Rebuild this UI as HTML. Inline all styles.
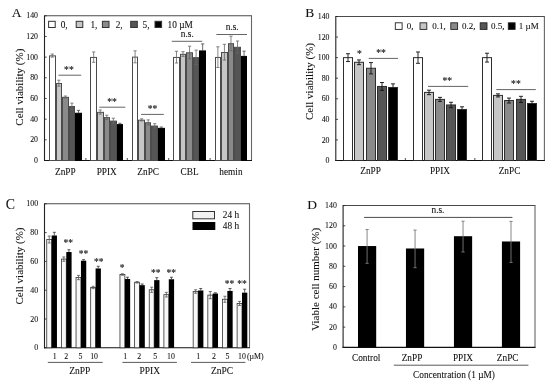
<!DOCTYPE html>
<html><head><meta charset="utf-8"><title>Figure</title>
<style>
html,body{margin:0;padding:0;background:#fff;}
svg{display:block;font-family:"Liberation Serif", "Times New Roman", serif;}
</style></head>
<body>
<svg width="550" height="385" viewBox="0 0 550 385">
<rect x="0" y="0" width="550" height="385" fill="#ffffff"/>
<line x1="44.00" y1="15.80" x2="252.00" y2="15.80" stroke="#4a4a4a" stroke-width="1.1"/>
<line x1="251.50" y1="15.80" x2="251.50" y2="160.50" stroke="#666" stroke-width="1.1"/>
<line x1="44.50" y1="15.80" x2="44.50" y2="161.00" stroke="#222" stroke-width="1.1"/>
<line x1="44.00" y1="160.50" x2="252.00" y2="160.50" stroke="#111" stroke-width="1.1"/>
<line x1="44.50" y1="160.50" x2="46.70" y2="160.50" stroke="#222" stroke-width="0.8"/>
<text x="38.00" y="163.07" font-size="7.8" text-anchor="end" fill="#111" stroke="#111" stroke-width="0.08">0</text>
<line x1="44.50" y1="139.83" x2="46.70" y2="139.83" stroke="#222" stroke-width="0.8"/>
<text x="38.00" y="142.40" font-size="7.8" text-anchor="end" fill="#111" stroke="#111" stroke-width="0.08">20</text>
<line x1="44.50" y1="119.16" x2="46.70" y2="119.16" stroke="#222" stroke-width="0.8"/>
<text x="38.00" y="121.73" font-size="7.8" text-anchor="end" fill="#111" stroke="#111" stroke-width="0.08">40</text>
<line x1="44.50" y1="98.49" x2="46.70" y2="98.49" stroke="#222" stroke-width="0.8"/>
<text x="38.00" y="101.06" font-size="7.8" text-anchor="end" fill="#111" stroke="#111" stroke-width="0.08">60</text>
<line x1="44.50" y1="77.81" x2="46.70" y2="77.81" stroke="#222" stroke-width="0.8"/>
<text x="38.00" y="80.39" font-size="7.8" text-anchor="end" fill="#111" stroke="#111" stroke-width="0.08">80</text>
<line x1="44.50" y1="57.14" x2="46.70" y2="57.14" stroke="#222" stroke-width="0.8"/>
<text x="38.00" y="59.72" font-size="7.8" text-anchor="end" fill="#111" stroke="#111" stroke-width="0.08">100</text>
<line x1="44.50" y1="36.47" x2="46.70" y2="36.47" stroke="#222" stroke-width="0.8"/>
<text x="38.00" y="39.05" font-size="7.8" text-anchor="end" fill="#111" stroke="#111" stroke-width="0.08">120</text>
<line x1="44.50" y1="15.80" x2="46.70" y2="15.80" stroke="#222" stroke-width="0.8"/>
<text x="38.00" y="18.37" font-size="7.8" text-anchor="end" fill="#111" stroke="#111" stroke-width="0.08">140</text>
<line x1="85.90" y1="160.50" x2="85.90" y2="158.00" stroke="#222" stroke-width="0.8"/>
<line x1="127.30" y1="160.50" x2="127.30" y2="158.00" stroke="#222" stroke-width="0.8"/>
<line x1="168.70" y1="160.50" x2="168.70" y2="158.00" stroke="#222" stroke-width="0.8"/>
<line x1="210.10" y1="160.50" x2="210.10" y2="158.00" stroke="#222" stroke-width="0.8"/>
<rect x="49.50" y="55.89" width="6.00" height="104.61" fill="#ffffff" stroke="#4c4c4c" stroke-width="1.0"/>
<rect x="56.50" y="83.49" width="5.00" height="77.01" fill="#c6c6c6" stroke="#4c4c4c" stroke-width="1.0"/>
<rect x="62.50" y="97.34" width="6.00" height="63.16" fill="#8a8a8a" stroke="#4c4c4c" stroke-width="1.0"/>
<rect x="69.50" y="106.54" width="5.00" height="53.96" fill="#555555" stroke="#4c4c4c" stroke-width="1.0"/>
<rect x="75.50" y="113.26" width="6.00" height="47.24" fill="#000000" stroke="#000" stroke-width="1.0"/>
<line x1="52.27" y1="54.04" x2="52.27" y2="57.14" stroke="#666" stroke-width="0.8"/>
<line x1="50.67" y1="54.04" x2="53.88" y2="54.04" stroke="#666" stroke-width="0.8"/>
<line x1="50.67" y1="57.14" x2="53.88" y2="57.14" stroke="#666" stroke-width="0.8"/>
<line x1="58.82" y1="80.19" x2="58.82" y2="86.19" stroke="#666" stroke-width="0.8"/>
<line x1="57.22" y1="80.19" x2="60.42" y2="80.19" stroke="#666" stroke-width="0.8"/>
<line x1="57.22" y1="86.19" x2="60.42" y2="86.19" stroke="#666" stroke-width="0.8"/>
<line x1="65.38" y1="96.01" x2="65.38" y2="98.07" stroke="#666" stroke-width="0.8"/>
<line x1="63.77" y1="96.01" x2="66.97" y2="96.01" stroke="#666" stroke-width="0.8"/>
<line x1="63.77" y1="98.07" x2="66.97" y2="98.07" stroke="#666" stroke-width="0.8"/>
<line x1="71.93" y1="103.14" x2="71.93" y2="109.34" stroke="#666" stroke-width="0.8"/>
<line x1="70.33" y1="103.14" x2="73.53" y2="103.14" stroke="#666" stroke-width="0.8"/>
<line x1="70.33" y1="109.34" x2="73.53" y2="109.34" stroke="#666" stroke-width="0.8"/>
<line x1="78.48" y1="110.37" x2="78.48" y2="112.96" stroke="#444" stroke-width="0.8"/>
<line x1="76.88" y1="110.37" x2="80.08" y2="110.37" stroke="#444" stroke-width="0.8"/>
<rect x="90.50" y="57.44" width="6.00" height="103.06" fill="#ffffff" stroke="#4c4c4c" stroke-width="1.0"/>
<rect x="97.50" y="112.33" width="6.00" height="48.17" fill="#c6c6c6" stroke="#4c4c4c" stroke-width="1.0"/>
<rect x="104.50" y="117.60" width="5.00" height="42.90" fill="#8a8a8a" stroke="#4c4c4c" stroke-width="1.0"/>
<rect x="110.50" y="121.11" width="6.00" height="39.39" fill="#555555" stroke="#4c4c4c" stroke-width="1.0"/>
<rect x="117.50" y="124.62" width="5.00" height="35.88" fill="#000000" stroke="#000" stroke-width="1.0"/>
<line x1="93.68" y1="51.98" x2="93.68" y2="62.31" stroke="#666" stroke-width="0.8"/>
<line x1="92.08" y1="51.98" x2="95.28" y2="51.98" stroke="#666" stroke-width="0.8"/>
<line x1="92.08" y1="62.31" x2="95.28" y2="62.31" stroke="#666" stroke-width="0.8"/>
<line x1="100.23" y1="109.96" x2="100.23" y2="114.09" stroke="#666" stroke-width="0.8"/>
<line x1="98.63" y1="109.96" x2="101.83" y2="109.96" stroke="#666" stroke-width="0.8"/>
<line x1="98.63" y1="114.09" x2="101.83" y2="114.09" stroke="#666" stroke-width="0.8"/>
<line x1="106.78" y1="115.23" x2="106.78" y2="119.36" stroke="#666" stroke-width="0.8"/>
<line x1="105.18" y1="115.23" x2="108.38" y2="115.23" stroke="#666" stroke-width="0.8"/>
<line x1="105.18" y1="119.36" x2="108.38" y2="119.36" stroke="#666" stroke-width="0.8"/>
<line x1="113.33" y1="118.23" x2="113.33" y2="123.39" stroke="#666" stroke-width="0.8"/>
<line x1="111.73" y1="118.23" x2="114.93" y2="118.23" stroke="#666" stroke-width="0.8"/>
<line x1="111.73" y1="123.39" x2="114.93" y2="123.39" stroke="#666" stroke-width="0.8"/>
<line x1="119.88" y1="123.29" x2="119.88" y2="124.33" stroke="#444" stroke-width="0.8"/>
<line x1="118.28" y1="123.29" x2="121.48" y2="123.29" stroke="#444" stroke-width="0.8"/>
<rect x="132.50" y="57.13" width="5.00" height="103.37" fill="#ffffff" stroke="#4c4c4c" stroke-width="1.0"/>
<rect x="138.50" y="120.18" width="6.00" height="40.32" fill="#c6c6c6" stroke="#4c4c4c" stroke-width="1.0"/>
<rect x="145.50" y="122.76" width="5.00" height="37.74" fill="#8a8a8a" stroke="#4c4c4c" stroke-width="1.0"/>
<rect x="151.50" y="126.07" width="6.00" height="34.43" fill="#555555" stroke="#4c4c4c" stroke-width="1.0"/>
<rect x="158.50" y="128.35" width="6.00" height="32.15" fill="#000000" stroke="#000" stroke-width="1.0"/>
<line x1="135.08" y1="50.84" x2="135.08" y2="62.83" stroke="#666" stroke-width="0.8"/>
<line x1="133.48" y1="50.84" x2="136.68" y2="50.84" stroke="#666" stroke-width="0.8"/>
<line x1="133.48" y1="62.83" x2="136.68" y2="62.83" stroke="#666" stroke-width="0.8"/>
<line x1="141.63" y1="118.85" x2="141.63" y2="120.91" stroke="#666" stroke-width="0.8"/>
<line x1="140.03" y1="118.85" x2="143.23" y2="118.85" stroke="#666" stroke-width="0.8"/>
<line x1="140.03" y1="120.91" x2="143.23" y2="120.91" stroke="#666" stroke-width="0.8"/>
<line x1="148.18" y1="119.88" x2="148.18" y2="125.05" stroke="#666" stroke-width="0.8"/>
<line x1="146.58" y1="119.88" x2="149.78" y2="119.88" stroke="#666" stroke-width="0.8"/>
<line x1="146.58" y1="125.05" x2="149.78" y2="125.05" stroke="#666" stroke-width="0.8"/>
<line x1="154.73" y1="123.70" x2="154.73" y2="127.84" stroke="#666" stroke-width="0.8"/>
<line x1="153.13" y1="123.70" x2="156.33" y2="123.70" stroke="#666" stroke-width="0.8"/>
<line x1="153.13" y1="127.84" x2="156.33" y2="127.84" stroke="#666" stroke-width="0.8"/>
<line x1="161.28" y1="127.01" x2="161.28" y2="128.05" stroke="#444" stroke-width="0.8"/>
<line x1="159.68" y1="127.01" x2="162.88" y2="127.01" stroke="#444" stroke-width="0.8"/>
<rect x="173.50" y="57.44" width="6.00" height="103.06" fill="#ffffff" stroke="#4c4c4c" stroke-width="1.0"/>
<rect x="180.50" y="54.34" width="5.00" height="106.16" fill="#c6c6c6" stroke="#4c4c4c" stroke-width="1.0"/>
<rect x="186.50" y="52.79" width="6.00" height="107.71" fill="#8a8a8a" stroke="#4c4c4c" stroke-width="1.0"/>
<rect x="193.50" y="57.65" width="5.00" height="102.85" fill="#555555" stroke="#4c4c4c" stroke-width="1.0"/>
<rect x="199.50" y="50.93" width="6.00" height="109.57" fill="#000000" stroke="#000" stroke-width="1.0"/>
<line x1="176.47" y1="51.25" x2="176.47" y2="63.03" stroke="#666" stroke-width="0.8"/>
<line x1="174.88" y1="51.25" x2="178.07" y2="51.25" stroke="#666" stroke-width="0.8"/>
<line x1="174.88" y1="63.03" x2="178.07" y2="63.03" stroke="#666" stroke-width="0.8"/>
<line x1="183.03" y1="51.66" x2="183.03" y2="56.42" stroke="#666" stroke-width="0.8"/>
<line x1="181.43" y1="51.66" x2="184.62" y2="51.66" stroke="#666" stroke-width="0.8"/>
<line x1="181.43" y1="56.42" x2="184.62" y2="56.42" stroke="#666" stroke-width="0.8"/>
<line x1="189.57" y1="46.19" x2="189.57" y2="58.80" stroke="#666" stroke-width="0.8"/>
<line x1="187.97" y1="46.19" x2="191.17" y2="46.19" stroke="#666" stroke-width="0.8"/>
<line x1="187.97" y1="58.80" x2="191.17" y2="58.80" stroke="#666" stroke-width="0.8"/>
<line x1="196.12" y1="50.11" x2="196.12" y2="64.58" stroke="#666" stroke-width="0.8"/>
<line x1="194.53" y1="50.11" x2="197.72" y2="50.11" stroke="#666" stroke-width="0.8"/>
<line x1="194.53" y1="64.58" x2="197.72" y2="64.58" stroke="#666" stroke-width="0.8"/>
<line x1="202.67" y1="43.91" x2="202.67" y2="50.63" stroke="#444" stroke-width="0.8"/>
<line x1="201.07" y1="43.91" x2="204.27" y2="43.91" stroke="#444" stroke-width="0.8"/>
<rect x="215.50" y="57.44" width="5.00" height="103.06" fill="#ffffff" stroke="#4c4c4c" stroke-width="1.0"/>
<rect x="221.50" y="52.48" width="6.00" height="108.02" fill="#c6c6c6" stroke="#4c4c4c" stroke-width="1.0"/>
<rect x="228.50" y="43.70" width="5.00" height="116.80" fill="#8a8a8a" stroke="#4c4c4c" stroke-width="1.0"/>
<rect x="234.50" y="47.31" width="6.00" height="113.19" fill="#555555" stroke="#4c4c4c" stroke-width="1.0"/>
<rect x="241.50" y="56.41" width="5.00" height="104.09" fill="#000000" stroke="#000" stroke-width="1.0"/>
<line x1="217.88" y1="46.81" x2="217.88" y2="67.48" stroke="#666" stroke-width="0.8"/>
<line x1="216.28" y1="46.81" x2="219.47" y2="46.81" stroke="#666" stroke-width="0.8"/>
<line x1="216.28" y1="67.48" x2="219.47" y2="67.48" stroke="#666" stroke-width="0.8"/>
<line x1="224.43" y1="44.33" x2="224.43" y2="60.04" stroke="#666" stroke-width="0.8"/>
<line x1="222.83" y1="44.33" x2="226.03" y2="44.33" stroke="#666" stroke-width="0.8"/>
<line x1="222.83" y1="60.04" x2="226.03" y2="60.04" stroke="#666" stroke-width="0.8"/>
<line x1="230.97" y1="36.16" x2="230.97" y2="50.63" stroke="#666" stroke-width="0.8"/>
<line x1="229.38" y1="36.16" x2="232.57" y2="36.16" stroke="#666" stroke-width="0.8"/>
<line x1="229.38" y1="50.63" x2="232.57" y2="50.63" stroke="#666" stroke-width="0.8"/>
<line x1="237.53" y1="41.02" x2="237.53" y2="53.01" stroke="#666" stroke-width="0.8"/>
<line x1="235.93" y1="41.02" x2="239.12" y2="41.02" stroke="#666" stroke-width="0.8"/>
<line x1="235.93" y1="53.01" x2="239.12" y2="53.01" stroke="#666" stroke-width="0.8"/>
<line x1="244.07" y1="51.15" x2="244.07" y2="56.11" stroke="#444" stroke-width="0.8"/>
<line x1="242.47" y1="51.15" x2="245.67" y2="51.15" stroke="#444" stroke-width="0.8"/>
<text x="65.38" y="174.80" font-size="9.3" text-anchor="middle" fill="#111" stroke="#111" stroke-width="0.08">ZnPP</text>
<text x="106.78" y="174.80" font-size="9.3" text-anchor="middle" fill="#111" stroke="#111" stroke-width="0.08">PPIX</text>
<text x="148.18" y="174.80" font-size="9.3" text-anchor="middle" fill="#111" stroke="#111" stroke-width="0.08">ZnPC</text>
<text x="189.57" y="174.80" font-size="9.3" text-anchor="middle" fill="#111" stroke="#111" stroke-width="0.08">CBL</text>
<text x="230.97" y="174.80" font-size="9.3" text-anchor="middle" fill="#111" stroke="#111" stroke-width="0.08">hemin</text>
<text x="16.60" y="17.30" font-size="13.5" text-anchor="middle" fill="#111" stroke="#111" stroke-width="0.08">A</text>
<text x="22.90" y="87.20" font-size="11" text-anchor="middle" fill="#111" stroke="#111" stroke-width="0.08" transform="rotate(-90 22.90 87.20)">Cell viability (%)</text>
<rect x="48.60" y="21.30" width="6.60" height="6.20" fill="#ffffff" stroke="#333" stroke-width="1.0"/>
<text x="60.70" y="27.90" font-size="9.3" text-anchor="start" fill="#111" stroke="#111" stroke-width="0.08">0,</text>
<rect x="76.20" y="21.30" width="6.60" height="6.20" fill="#c6c6c6" stroke="#333" stroke-width="1.0"/>
<text x="90.40" y="27.90" font-size="9.3" text-anchor="start" fill="#111" stroke="#111" stroke-width="0.08">1,</text>
<rect x="102.40" y="21.30" width="6.60" height="6.20" fill="#8a8a8a" stroke="#333" stroke-width="1.0"/>
<text x="115.70" y="27.90" font-size="9.3" text-anchor="start" fill="#111" stroke="#111" stroke-width="0.08">2,</text>
<rect x="130.70" y="21.30" width="6.60" height="6.20" fill="#555555" stroke="#333" stroke-width="1.0"/>
<text x="142.50" y="27.90" font-size="9.3" text-anchor="start" fill="#111" stroke="#111" stroke-width="0.08">5,</text>
<rect x="155.00" y="21.30" width="6.60" height="6.20" fill="#000000" stroke="#333" stroke-width="1.0"/>
<text x="167.60" y="27.90" font-size="9.3" text-anchor="start" fill="#111" stroke="#111" stroke-width="0.08">10 µM</text>
<line x1="58.50" y1="75.20" x2="81.20" y2="75.20" stroke="#646464" stroke-width="1.0"/>
<text x="68.90" y="73.10" font-size="9.6" text-anchor="middle" fill="#111" stroke="#111" stroke-width="0.12">**</text>
<line x1="99.30" y1="107.20" x2="125.30" y2="107.20" stroke="#646464" stroke-width="1.0"/>
<text x="112.10" y="105.10" font-size="9.6" text-anchor="middle" fill="#111" stroke="#111" stroke-width="0.12">**</text>
<line x1="141.10" y1="114.40" x2="163.80" y2="114.40" stroke="#646464" stroke-width="1.0"/>
<text x="152.50" y="112.30" font-size="9.6" text-anchor="middle" fill="#111" stroke="#111" stroke-width="0.12">**</text>
<line x1="171.80" y1="41.30" x2="202.20" y2="41.30" stroke="#646464" stroke-width="1.0"/>
<text x="187.30" y="36.70" font-size="9.3" text-anchor="middle" fill="#111" stroke="#111" stroke-width="0.08">n.s.</text>
<line x1="216.40" y1="34.50" x2="247.00" y2="34.50" stroke="#646464" stroke-width="1.0"/>
<text x="232.20" y="29.90" font-size="9.3" text-anchor="middle" fill="#111" stroke="#111" stroke-width="0.08">n.s.</text>
<line x1="335.30" y1="16.50" x2="544.90" y2="16.50" stroke="#4a4a4a" stroke-width="1.1"/>
<line x1="544.40" y1="16.50" x2="544.40" y2="160.50" stroke="#666" stroke-width="1.1"/>
<line x1="335.80" y1="16.50" x2="335.80" y2="161.00" stroke="#222" stroke-width="1.1"/>
<line x1="335.30" y1="160.50" x2="544.90" y2="160.50" stroke="#111" stroke-width="1.1"/>
<line x1="335.80" y1="160.50" x2="338.00" y2="160.50" stroke="#222" stroke-width="0.8"/>
<text x="329.50" y="163.07" font-size="7.8" text-anchor="end" fill="#111" stroke="#111" stroke-width="0.08">0</text>
<line x1="335.80" y1="139.93" x2="338.00" y2="139.93" stroke="#222" stroke-width="0.8"/>
<text x="329.50" y="142.50" font-size="7.8" text-anchor="end" fill="#111" stroke="#111" stroke-width="0.08">20</text>
<line x1="335.80" y1="119.36" x2="338.00" y2="119.36" stroke="#222" stroke-width="0.8"/>
<text x="329.50" y="121.93" font-size="7.8" text-anchor="end" fill="#111" stroke="#111" stroke-width="0.08">40</text>
<line x1="335.80" y1="98.79" x2="338.00" y2="98.79" stroke="#222" stroke-width="0.8"/>
<text x="329.50" y="101.36" font-size="7.8" text-anchor="end" fill="#111" stroke="#111" stroke-width="0.08">60</text>
<line x1="335.80" y1="78.21" x2="338.00" y2="78.21" stroke="#222" stroke-width="0.8"/>
<text x="329.50" y="80.79" font-size="7.8" text-anchor="end" fill="#111" stroke="#111" stroke-width="0.08">80</text>
<line x1="335.80" y1="57.64" x2="338.00" y2="57.64" stroke="#222" stroke-width="0.8"/>
<text x="329.50" y="60.22" font-size="7.8" text-anchor="end" fill="#111" stroke="#111" stroke-width="0.08">100</text>
<line x1="335.80" y1="37.07" x2="338.00" y2="37.07" stroke="#222" stroke-width="0.8"/>
<text x="329.50" y="39.65" font-size="7.8" text-anchor="end" fill="#111" stroke="#111" stroke-width="0.08">120</text>
<line x1="335.80" y1="16.50" x2="338.00" y2="16.50" stroke="#222" stroke-width="0.8"/>
<text x="329.50" y="19.07" font-size="7.8" text-anchor="end" fill="#111" stroke="#111" stroke-width="0.08">140</text>
<line x1="405.33" y1="160.50" x2="405.33" y2="158.00" stroke="#222" stroke-width="0.8"/>
<line x1="474.87" y1="160.50" x2="474.87" y2="158.00" stroke="#222" stroke-width="0.8"/>
<rect x="343.50" y="57.64" width="9.00" height="102.86" fill="#ffffff" stroke="#2e2e2e" stroke-width="1.0"/>
<rect x="354.50" y="62.27" width="9.00" height="98.23" fill="#c6c6c6" stroke="#2e2e2e" stroke-width="1.0"/>
<rect x="366.50" y="68.24" width="9.00" height="92.26" fill="#8a8a8a" stroke="#2e2e2e" stroke-width="1.0"/>
<rect x="377.50" y="86.44" width="9.00" height="74.06" fill="#555555" stroke="#2e2e2e" stroke-width="1.0"/>
<rect x="388.50" y="87.47" width="9.00" height="73.03" fill="#000000" stroke="#2e2e2e" stroke-width="1.0"/>
<line x1="348.00" y1="53.73" x2="348.00" y2="61.55" stroke="#111" stroke-width="0.9"/>
<line x1="346.00" y1="53.73" x2="350.00" y2="53.73" stroke="#111" stroke-width="0.9"/>
<line x1="346.00" y1="61.55" x2="350.00" y2="61.55" stroke="#111" stroke-width="0.9"/>
<line x1="359.00" y1="59.91" x2="359.00" y2="64.64" stroke="#111" stroke-width="0.9"/>
<line x1="357.00" y1="59.91" x2="361.00" y2="59.91" stroke="#111" stroke-width="0.9"/>
<line x1="357.00" y1="64.64" x2="361.00" y2="64.64" stroke="#111" stroke-width="0.9"/>
<line x1="371.00" y1="62.58" x2="371.00" y2="73.89" stroke="#111" stroke-width="0.9"/>
<line x1="369.00" y1="62.58" x2="373.00" y2="62.58" stroke="#111" stroke-width="0.9"/>
<line x1="369.00" y1="73.89" x2="373.00" y2="73.89" stroke="#111" stroke-width="0.9"/>
<line x1="382.00" y1="82.53" x2="382.00" y2="90.35" stroke="#111" stroke-width="0.9"/>
<line x1="380.00" y1="82.53" x2="384.00" y2="82.53" stroke="#111" stroke-width="0.9"/>
<line x1="380.00" y1="90.35" x2="384.00" y2="90.35" stroke="#111" stroke-width="0.9"/>
<line x1="393.00" y1="83.87" x2="393.00" y2="87.47" stroke="#111" stroke-width="0.9"/>
<line x1="391.00" y1="83.87" x2="395.00" y2="83.87" stroke="#111" stroke-width="0.9"/>
<rect x="413.50" y="57.64" width="9.00" height="102.86" fill="#ffffff" stroke="#2e2e2e" stroke-width="1.0"/>
<rect x="424.50" y="92.41" width="9.00" height="68.09" fill="#c6c6c6" stroke="#2e2e2e" stroke-width="1.0"/>
<rect x="435.50" y="99.40" width="9.00" height="61.10" fill="#8a8a8a" stroke="#2e2e2e" stroke-width="1.0"/>
<rect x="446.50" y="104.96" width="9.00" height="55.54" fill="#555555" stroke="#2e2e2e" stroke-width="1.0"/>
<rect x="457.50" y="109.48" width="9.00" height="51.02" fill="#000000" stroke="#2e2e2e" stroke-width="1.0"/>
<line x1="418.00" y1="51.99" x2="418.00" y2="63.30" stroke="#111" stroke-width="0.9"/>
<line x1="416.00" y1="51.99" x2="420.00" y2="51.99" stroke="#111" stroke-width="0.9"/>
<line x1="416.00" y1="63.30" x2="420.00" y2="63.30" stroke="#111" stroke-width="0.9"/>
<line x1="429.00" y1="90.15" x2="429.00" y2="94.67" stroke="#111" stroke-width="0.9"/>
<line x1="427.00" y1="90.15" x2="431.00" y2="90.15" stroke="#111" stroke-width="0.9"/>
<line x1="427.00" y1="94.67" x2="431.00" y2="94.67" stroke="#111" stroke-width="0.9"/>
<line x1="440.00" y1="97.35" x2="440.00" y2="101.46" stroke="#111" stroke-width="0.9"/>
<line x1="438.00" y1="97.35" x2="442.00" y2="97.35" stroke="#111" stroke-width="0.9"/>
<line x1="438.00" y1="101.46" x2="442.00" y2="101.46" stroke="#111" stroke-width="0.9"/>
<line x1="451.00" y1="102.28" x2="451.00" y2="107.63" stroke="#111" stroke-width="0.9"/>
<line x1="449.00" y1="102.28" x2="453.00" y2="102.28" stroke="#111" stroke-width="0.9"/>
<line x1="449.00" y1="107.63" x2="453.00" y2="107.63" stroke="#111" stroke-width="0.9"/>
<line x1="462.00" y1="106.81" x2="462.00" y2="109.48" stroke="#111" stroke-width="0.9"/>
<line x1="460.00" y1="106.81" x2="464.00" y2="106.81" stroke="#111" stroke-width="0.9"/>
<rect x="482.50" y="57.64" width="9.00" height="102.86" fill="#ffffff" stroke="#2e2e2e" stroke-width="1.0"/>
<rect x="493.50" y="95.39" width="9.00" height="65.11" fill="#c6c6c6" stroke="#2e2e2e" stroke-width="1.0"/>
<rect x="504.50" y="100.53" width="9.00" height="59.97" fill="#8a8a8a" stroke="#2e2e2e" stroke-width="1.0"/>
<rect x="516.50" y="99.40" width="9.00" height="61.10" fill="#555555" stroke="#2e2e2e" stroke-width="1.0"/>
<rect x="527.50" y="103.52" width="9.00" height="56.98" fill="#000000" stroke="#2e2e2e" stroke-width="1.0"/>
<line x1="487.00" y1="53.22" x2="487.00" y2="62.07" stroke="#111" stroke-width="0.9"/>
<line x1="485.00" y1="53.22" x2="489.00" y2="53.22" stroke="#111" stroke-width="0.9"/>
<line x1="485.00" y1="62.07" x2="489.00" y2="62.07" stroke="#111" stroke-width="0.9"/>
<line x1="498.00" y1="93.85" x2="498.00" y2="96.93" stroke="#111" stroke-width="0.9"/>
<line x1="496.00" y1="93.85" x2="500.00" y2="93.85" stroke="#111" stroke-width="0.9"/>
<line x1="496.00" y1="96.93" x2="500.00" y2="96.93" stroke="#111" stroke-width="0.9"/>
<line x1="509.00" y1="98.07" x2="509.00" y2="103.00" stroke="#111" stroke-width="0.9"/>
<line x1="507.00" y1="98.07" x2="511.00" y2="98.07" stroke="#111" stroke-width="0.9"/>
<line x1="507.00" y1="103.00" x2="511.00" y2="103.00" stroke="#111" stroke-width="0.9"/>
<line x1="521.00" y1="96.32" x2="521.00" y2="102.49" stroke="#111" stroke-width="0.9"/>
<line x1="519.00" y1="96.32" x2="523.00" y2="96.32" stroke="#111" stroke-width="0.9"/>
<line x1="519.00" y1="102.49" x2="523.00" y2="102.49" stroke="#111" stroke-width="0.9"/>
<line x1="532.00" y1="101.25" x2="532.00" y2="103.52" stroke="#111" stroke-width="0.9"/>
<line x1="530.00" y1="101.25" x2="534.00" y2="101.25" stroke="#111" stroke-width="0.9"/>
<text x="370.60" y="174.20" font-size="9.3" text-anchor="middle" fill="#111" stroke="#111" stroke-width="0.08">ZnPP</text>
<text x="440.00" y="174.20" font-size="9.3" text-anchor="middle" fill="#111" stroke="#111" stroke-width="0.08">PPIX</text>
<text x="509.50" y="174.20" font-size="9.3" text-anchor="middle" fill="#111" stroke="#111" stroke-width="0.08">ZnPC</text>
<text x="309.80" y="17.30" font-size="13.5" text-anchor="middle" fill="#111" stroke="#111" stroke-width="0.08">B</text>
<text x="313.30" y="81.50" font-size="11" text-anchor="middle" fill="#111" stroke="#111" stroke-width="0.08" transform="rotate(-90 313.30 81.50)">Cell viability (%)</text>
<rect x="395.30" y="22.80" width="6.80" height="6.60" fill="#ffffff" stroke="#222" stroke-width="0.9"/>
<text x="406.70" y="29.20" font-size="9.0" text-anchor="start" fill="#111" stroke="#111" stroke-width="0.08">0,</text>
<rect x="420.00" y="22.80" width="6.80" height="6.60" fill="#c6c6c6" stroke="#222" stroke-width="0.9"/>
<text x="432.20" y="29.20" font-size="9.0" text-anchor="start" fill="#111" stroke="#111" stroke-width="0.08">0.1,</text>
<rect x="450.80" y="22.80" width="6.80" height="6.60" fill="#8a8a8a" stroke="#222" stroke-width="0.9"/>
<text x="462.10" y="29.20" font-size="9.0" text-anchor="start" fill="#111" stroke="#111" stroke-width="0.08">0.2,</text>
<rect x="480.20" y="22.80" width="6.80" height="6.60" fill="#555555" stroke="#222" stroke-width="0.9"/>
<text x="491.00" y="29.20" font-size="9.0" text-anchor="start" fill="#111" stroke="#111" stroke-width="0.08">0.5,</text>
<rect x="508.30" y="22.80" width="6.80" height="6.60" fill="#000000" stroke="#222" stroke-width="0.9"/>
<text x="518.80" y="29.20" font-size="9.0" text-anchor="start" fill="#111" stroke="#111" stroke-width="0.08">1 µM</text>
<line x1="368.70" y1="58.40" x2="398.00" y2="58.40" stroke="#646464" stroke-width="1.0"/>
<text x="381.00" y="55.60" font-size="9.6" text-anchor="middle" fill="#111" stroke="#111" stroke-width="0.12">**</text>
<line x1="428.00" y1="86.40" x2="468.20" y2="86.40" stroke="#646464" stroke-width="1.0"/>
<text x="447.20" y="83.60" font-size="9.6" text-anchor="middle" fill="#111" stroke="#111" stroke-width="0.12">**</text>
<line x1="496.30" y1="89.60" x2="535.80" y2="89.60" stroke="#646464" stroke-width="1.0"/>
<text x="515.90" y="86.80" font-size="9.6" text-anchor="middle" fill="#111" stroke="#111" stroke-width="0.12">**</text>
<text x="359.30" y="57.30" font-size="9.6" text-anchor="middle" fill="#111" stroke="#111" stroke-width="0.12">*</text>
<line x1="44.00" y1="203.80" x2="250.00" y2="203.80" stroke="#4a4a4a" stroke-width="1.1"/>
<line x1="249.50" y1="203.80" x2="249.50" y2="347.80" stroke="#666" stroke-width="1.1"/>
<line x1="44.50" y1="203.80" x2="44.50" y2="348.30" stroke="#222" stroke-width="1.1"/>
<line x1="44.00" y1="347.80" x2="250.00" y2="347.80" stroke="#111" stroke-width="1.1"/>
<line x1="44.50" y1="347.80" x2="46.70" y2="347.80" stroke="#222" stroke-width="0.8"/>
<text x="38.20" y="350.41" font-size="7.9" text-anchor="end" fill="#111" stroke="#111" stroke-width="0.08">0</text>
<line x1="44.50" y1="319.00" x2="46.70" y2="319.00" stroke="#222" stroke-width="0.8"/>
<text x="38.20" y="321.61" font-size="7.9" text-anchor="end" fill="#111" stroke="#111" stroke-width="0.08">20</text>
<line x1="44.50" y1="290.20" x2="46.70" y2="290.20" stroke="#222" stroke-width="0.8"/>
<text x="38.20" y="292.81" font-size="7.9" text-anchor="end" fill="#111" stroke="#111" stroke-width="0.08">40</text>
<line x1="44.50" y1="261.40" x2="46.70" y2="261.40" stroke="#222" stroke-width="0.8"/>
<text x="38.20" y="264.01" font-size="7.9" text-anchor="end" fill="#111" stroke="#111" stroke-width="0.08">60</text>
<line x1="44.50" y1="232.60" x2="46.70" y2="232.60" stroke="#222" stroke-width="0.8"/>
<text x="38.20" y="235.21" font-size="7.9" text-anchor="end" fill="#111" stroke="#111" stroke-width="0.08">80</text>
<line x1="44.50" y1="203.80" x2="46.70" y2="203.80" stroke="#222" stroke-width="0.8"/>
<text x="38.20" y="206.41" font-size="7.9" text-anchor="end" fill="#111" stroke="#111" stroke-width="0.08">100</text>
<rect x="46.75" y="239.51" width="4.90" height="108.29" fill="#f8f8f8" stroke="#333" stroke-width="0.8"/>
<rect x="51.65" y="235.48" width="5.30" height="112.32" fill="#000"/>
<line x1="49.20" y1="236.06" x2="49.20" y2="242.97" stroke="#555" stroke-width="0.8"/>
<line x1="47.70" y1="236.06" x2="50.70" y2="236.06" stroke="#555" stroke-width="0.8"/>
<line x1="47.70" y1="242.97" x2="50.70" y2="242.97" stroke="#555" stroke-width="0.8"/>
<line x1="54.30" y1="232.31" x2="54.30" y2="235.48" stroke="#333" stroke-width="0.8"/>
<line x1="52.80" y1="232.31" x2="55.80" y2="232.31" stroke="#333" stroke-width="0.8"/>
<rect x="61.39" y="259.10" width="4.90" height="88.70" fill="#f8f8f8" stroke="#333" stroke-width="0.8"/>
<rect x="66.29" y="252.04" width="5.30" height="95.76" fill="#000"/>
<line x1="63.84" y1="256.94" x2="63.84" y2="261.26" stroke="#555" stroke-width="0.8"/>
<line x1="62.34" y1="256.94" x2="65.34" y2="256.94" stroke="#555" stroke-width="0.8"/>
<line x1="62.34" y1="261.26" x2="65.34" y2="261.26" stroke="#555" stroke-width="0.8"/>
<line x1="68.94" y1="249.74" x2="68.94" y2="252.04" stroke="#333" stroke-width="0.8"/>
<line x1="67.44" y1="249.74" x2="70.44" y2="249.74" stroke="#333" stroke-width="0.8"/>
<rect x="76.04" y="277.53" width="4.90" height="70.27" fill="#f8f8f8" stroke="#333" stroke-width="0.8"/>
<rect x="80.94" y="260.68" width="5.30" height="87.12" fill="#000"/>
<line x1="78.49" y1="275.37" x2="78.49" y2="279.69" stroke="#555" stroke-width="0.8"/>
<line x1="76.99" y1="275.37" x2="79.99" y2="275.37" stroke="#555" stroke-width="0.8"/>
<line x1="76.99" y1="279.69" x2="79.99" y2="279.69" stroke="#555" stroke-width="0.8"/>
<line x1="83.59" y1="259.67" x2="83.59" y2="260.68" stroke="#333" stroke-width="0.8"/>
<line x1="82.09" y1="259.67" x2="85.09" y2="259.67" stroke="#333" stroke-width="0.8"/>
<rect x="90.68" y="287.46" width="4.90" height="60.34" fill="#f8f8f8" stroke="#333" stroke-width="0.8"/>
<rect x="95.58" y="268.46" width="5.30" height="79.34" fill="#000"/>
<line x1="93.13" y1="286.31" x2="93.13" y2="288.62" stroke="#555" stroke-width="0.8"/>
<line x1="91.63" y1="286.31" x2="94.63" y2="286.31" stroke="#555" stroke-width="0.8"/>
<line x1="91.63" y1="288.62" x2="94.63" y2="288.62" stroke="#555" stroke-width="0.8"/>
<line x1="98.23" y1="266.30" x2="98.23" y2="268.46" stroke="#333" stroke-width="0.8"/>
<line x1="96.73" y1="266.30" x2="99.73" y2="266.30" stroke="#333" stroke-width="0.8"/>
<rect x="119.96" y="274.50" width="4.90" height="73.30" fill="#f8f8f8" stroke="#333" stroke-width="0.8"/>
<rect x="124.86" y="278.97" width="5.30" height="68.83" fill="#000"/>
<line x1="122.41" y1="273.78" x2="122.41" y2="275.22" stroke="#555" stroke-width="0.8"/>
<line x1="120.91" y1="273.78" x2="123.91" y2="273.78" stroke="#555" stroke-width="0.8"/>
<line x1="120.91" y1="275.22" x2="123.91" y2="275.22" stroke="#555" stroke-width="0.8"/>
<line x1="127.51" y1="277.24" x2="127.51" y2="278.97" stroke="#333" stroke-width="0.8"/>
<line x1="126.01" y1="277.24" x2="129.01" y2="277.24" stroke="#333" stroke-width="0.8"/>
<rect x="134.61" y="282.28" width="4.90" height="65.52" fill="#f8f8f8" stroke="#333" stroke-width="0.8"/>
<rect x="139.51" y="285.16" width="5.30" height="62.64" fill="#000"/>
<line x1="137.06" y1="281.56" x2="137.06" y2="283.00" stroke="#555" stroke-width="0.8"/>
<line x1="135.56" y1="281.56" x2="138.56" y2="281.56" stroke="#555" stroke-width="0.8"/>
<line x1="135.56" y1="283.00" x2="138.56" y2="283.00" stroke="#555" stroke-width="0.8"/>
<line x1="142.16" y1="284.01" x2="142.16" y2="285.16" stroke="#333" stroke-width="0.8"/>
<line x1="140.66" y1="284.01" x2="143.66" y2="284.01" stroke="#333" stroke-width="0.8"/>
<rect x="149.25" y="289.77" width="4.90" height="58.03" fill="#f8f8f8" stroke="#333" stroke-width="0.8"/>
<rect x="154.15" y="280.12" width="5.30" height="67.68" fill="#000"/>
<line x1="151.70" y1="287.18" x2="151.70" y2="292.36" stroke="#555" stroke-width="0.8"/>
<line x1="150.20" y1="287.18" x2="153.20" y2="287.18" stroke="#555" stroke-width="0.8"/>
<line x1="150.20" y1="292.36" x2="153.20" y2="292.36" stroke="#555" stroke-width="0.8"/>
<line x1="156.80" y1="277.67" x2="156.80" y2="280.12" stroke="#333" stroke-width="0.8"/>
<line x1="155.30" y1="277.67" x2="158.30" y2="277.67" stroke="#333" stroke-width="0.8"/>
<rect x="163.89" y="294.66" width="4.90" height="53.14" fill="#f8f8f8" stroke="#333" stroke-width="0.8"/>
<rect x="168.79" y="279.26" width="5.30" height="68.54" fill="#000"/>
<line x1="166.34" y1="292.36" x2="166.34" y2="296.97" stroke="#555" stroke-width="0.8"/>
<line x1="164.84" y1="292.36" x2="167.84" y2="292.36" stroke="#555" stroke-width="0.8"/>
<line x1="164.84" y1="296.97" x2="167.84" y2="296.97" stroke="#555" stroke-width="0.8"/>
<line x1="171.44" y1="277.24" x2="171.44" y2="279.26" stroke="#333" stroke-width="0.8"/>
<line x1="169.94" y1="277.24" x2="172.94" y2="277.24" stroke="#333" stroke-width="0.8"/>
<rect x="193.18" y="291.50" width="4.90" height="56.30" fill="#f8f8f8" stroke="#333" stroke-width="0.8"/>
<rect x="198.08" y="290.49" width="5.30" height="57.31" fill="#000"/>
<line x1="195.63" y1="289.77" x2="195.63" y2="293.22" stroke="#555" stroke-width="0.8"/>
<line x1="194.13" y1="289.77" x2="197.13" y2="289.77" stroke="#555" stroke-width="0.8"/>
<line x1="194.13" y1="293.22" x2="197.13" y2="293.22" stroke="#555" stroke-width="0.8"/>
<line x1="200.73" y1="288.47" x2="200.73" y2="290.49" stroke="#333" stroke-width="0.8"/>
<line x1="199.23" y1="288.47" x2="202.23" y2="288.47" stroke="#333" stroke-width="0.8"/>
<rect x="207.82" y="295.10" width="4.90" height="52.70" fill="#f8f8f8" stroke="#333" stroke-width="0.8"/>
<rect x="212.72" y="293.51" width="5.30" height="54.29" fill="#000"/>
<line x1="210.27" y1="291.50" x2="210.27" y2="298.70" stroke="#555" stroke-width="0.8"/>
<line x1="208.77" y1="291.50" x2="211.77" y2="291.50" stroke="#555" stroke-width="0.8"/>
<line x1="208.77" y1="298.70" x2="211.77" y2="298.70" stroke="#555" stroke-width="0.8"/>
<line x1="215.37" y1="292.79" x2="215.37" y2="293.51" stroke="#333" stroke-width="0.8"/>
<line x1="213.87" y1="292.79" x2="216.87" y2="292.79" stroke="#333" stroke-width="0.8"/>
<rect x="222.46" y="299.27" width="4.90" height="48.53" fill="#f8f8f8" stroke="#333" stroke-width="0.8"/>
<rect x="227.36" y="290.92" width="5.30" height="56.88" fill="#000"/>
<line x1="224.91" y1="296.25" x2="224.91" y2="302.30" stroke="#555" stroke-width="0.8"/>
<line x1="223.41" y1="296.25" x2="226.41" y2="296.25" stroke="#555" stroke-width="0.8"/>
<line x1="223.41" y1="302.30" x2="226.41" y2="302.30" stroke="#555" stroke-width="0.8"/>
<line x1="230.01" y1="288.47" x2="230.01" y2="290.92" stroke="#333" stroke-width="0.8"/>
<line x1="228.51" y1="288.47" x2="231.51" y2="288.47" stroke="#333" stroke-width="0.8"/>
<rect x="237.11" y="303.45" width="4.90" height="44.35" fill="#f8f8f8" stroke="#333" stroke-width="0.8"/>
<rect x="242.01" y="292.65" width="5.30" height="55.15" fill="#000"/>
<line x1="239.56" y1="301.43" x2="239.56" y2="305.46" stroke="#555" stroke-width="0.8"/>
<line x1="238.06" y1="301.43" x2="241.06" y2="301.43" stroke="#555" stroke-width="0.8"/>
<line x1="238.06" y1="305.46" x2="241.06" y2="305.46" stroke="#555" stroke-width="0.8"/>
<line x1="244.66" y1="289.19" x2="244.66" y2="292.65" stroke="#333" stroke-width="0.8"/>
<line x1="243.16" y1="289.19" x2="246.16" y2="289.19" stroke="#333" stroke-width="0.8"/>
<text x="68.30" y="245.50" font-size="9.5" text-anchor="middle" fill="#111" stroke="#111" stroke-width="0.12">**</text>
<text x="83.60" y="257.20" font-size="9.5" text-anchor="middle" fill="#111" stroke="#111" stroke-width="0.12">**</text>
<text x="98.70" y="265.00" font-size="9.5" text-anchor="middle" fill="#111" stroke="#111" stroke-width="0.12">**</text>
<text x="122.00" y="270.70" font-size="9.5" text-anchor="middle" fill="#111" stroke="#111" stroke-width="0.12">*</text>
<text x="155.80" y="275.50" font-size="9.5" text-anchor="middle" fill="#111" stroke="#111" stroke-width="0.12">**</text>
<text x="171.30" y="276.40" font-size="9.5" text-anchor="middle" fill="#111" stroke="#111" stroke-width="0.12">**</text>
<text x="229.60" y="287.40" font-size="9.5" text-anchor="middle" fill="#111" stroke="#111" stroke-width="0.12">**</text>
<text x="242.10" y="287.40" font-size="9.5" text-anchor="middle" fill="#111" stroke="#111" stroke-width="0.12">**</text>
<text x="54.70" y="359.20" font-size="7.8" text-anchor="middle" fill="#111" stroke="#111" stroke-width="0.08">1</text>
<text x="66.20" y="359.20" font-size="7.8" text-anchor="middle" fill="#111" stroke="#111" stroke-width="0.08">2</text>
<text x="80.40" y="359.20" font-size="7.8" text-anchor="middle" fill="#111" stroke="#111" stroke-width="0.08">5</text>
<text x="94.10" y="359.20" font-size="7.8" text-anchor="middle" fill="#111" stroke="#111" stroke-width="0.08">10</text>
<text x="125.30" y="359.20" font-size="7.8" text-anchor="middle" fill="#111" stroke="#111" stroke-width="0.08">1</text>
<text x="139.30" y="359.20" font-size="7.8" text-anchor="middle" fill="#111" stroke="#111" stroke-width="0.08">2</text>
<text x="155.10" y="359.20" font-size="7.8" text-anchor="middle" fill="#111" stroke="#111" stroke-width="0.08">5</text>
<text x="170.90" y="359.20" font-size="7.8" text-anchor="middle" fill="#111" stroke="#111" stroke-width="0.08">10</text>
<text x="198.20" y="359.20" font-size="7.8" text-anchor="middle" fill="#111" stroke="#111" stroke-width="0.08">1</text>
<text x="214.00" y="359.20" font-size="7.8" text-anchor="middle" fill="#111" stroke="#111" stroke-width="0.08">2</text>
<text x="227.50" y="359.20" font-size="7.8" text-anchor="middle" fill="#111" stroke="#111" stroke-width="0.08">5</text>
<text x="242.00" y="359.20" font-size="7.8" text-anchor="middle" fill="#111" stroke="#111" stroke-width="0.08">10</text>
<text x="255.30" y="359.20" font-size="7.8" text-anchor="middle" fill="#111" stroke="#111" stroke-width="0.08">(µM)</text>
<line x1="47.80" y1="362.40" x2="102.70" y2="362.40" stroke="#5a5a5a" stroke-width="1.0"/>
<text x="79.80" y="373.90" font-size="9.5" text-anchor="middle" fill="#111" stroke="#111" stroke-width="0.08">ZnPP</text>
<line x1="122.40" y1="362.40" x2="176.90" y2="362.40" stroke="#5a5a5a" stroke-width="1.0"/>
<text x="149.80" y="373.90" font-size="9.5" text-anchor="middle" fill="#111" stroke="#111" stroke-width="0.08">PPIX</text>
<line x1="191.00" y1="362.40" x2="245.40" y2="362.40" stroke="#5a5a5a" stroke-width="1.0"/>
<text x="222.10" y="373.90" font-size="9.5" text-anchor="middle" fill="#111" stroke="#111" stroke-width="0.08">ZnPC</text>
<text x="10.30" y="208.50" font-size="13.8" text-anchor="middle" fill="#111" stroke="#111" stroke-width="0.08">C</text>
<text x="22.50" y="266.00" font-size="11" text-anchor="middle" fill="#111" stroke="#111" stroke-width="0.08" transform="rotate(-90 22.50 266.00)">Cell viability (%)</text>
<rect x="192.80" y="211.50" width="21.70" height="7.30" fill="#f2f2f2" stroke="#333" stroke-width="1.0"/>
<rect x="192.50" y="222.00" width="22.80" height="8.00" fill="#000"/>
<text x="222.80" y="217.80" font-size="9.3" text-anchor="start" fill="#111" stroke="#111" stroke-width="0.08">24 h</text>
<text x="222.80" y="228.60" font-size="9.3" text-anchor="start" fill="#111" stroke="#111" stroke-width="0.08">48 h</text>
<line x1="342.60" y1="205.50" x2="535.50" y2="205.50" stroke="#4a4a4a" stroke-width="1.1"/>
<line x1="535.00" y1="205.50" x2="535.00" y2="347.40" stroke="#666" stroke-width="1.1"/>
<line x1="343.10" y1="205.50" x2="343.10" y2="347.90" stroke="#222" stroke-width="1.1"/>
<line x1="342.60" y1="347.40" x2="535.50" y2="347.40" stroke="#111" stroke-width="1.1"/>
<line x1="343.10" y1="347.40" x2="345.30" y2="347.40" stroke="#222" stroke-width="0.8"/>
<text x="336.80" y="349.97" font-size="7.8" text-anchor="end" fill="#111" stroke="#111" stroke-width="0.08">0</text>
<line x1="343.10" y1="327.13" x2="345.30" y2="327.13" stroke="#222" stroke-width="0.8"/>
<text x="336.80" y="329.70" font-size="7.8" text-anchor="end" fill="#111" stroke="#111" stroke-width="0.08">20</text>
<line x1="343.10" y1="306.86" x2="345.30" y2="306.86" stroke="#222" stroke-width="0.8"/>
<text x="336.80" y="309.43" font-size="7.8" text-anchor="end" fill="#111" stroke="#111" stroke-width="0.08">40</text>
<line x1="343.10" y1="286.59" x2="345.30" y2="286.59" stroke="#222" stroke-width="0.8"/>
<text x="336.80" y="289.16" font-size="7.8" text-anchor="end" fill="#111" stroke="#111" stroke-width="0.08">60</text>
<line x1="343.10" y1="266.31" x2="345.30" y2="266.31" stroke="#222" stroke-width="0.8"/>
<text x="336.80" y="268.89" font-size="7.8" text-anchor="end" fill="#111" stroke="#111" stroke-width="0.08">80</text>
<line x1="343.10" y1="246.04" x2="345.30" y2="246.04" stroke="#222" stroke-width="0.8"/>
<text x="336.80" y="248.62" font-size="7.8" text-anchor="end" fill="#111" stroke="#111" stroke-width="0.08">100</text>
<line x1="343.10" y1="225.77" x2="345.30" y2="225.77" stroke="#222" stroke-width="0.8"/>
<text x="336.80" y="228.35" font-size="7.8" text-anchor="end" fill="#111" stroke="#111" stroke-width="0.08">120</text>
<line x1="343.10" y1="205.50" x2="345.30" y2="205.50" stroke="#222" stroke-width="0.8"/>
<text x="336.80" y="208.07" font-size="7.8" text-anchor="end" fill="#111" stroke="#111" stroke-width="0.08">140</text>
<rect x="357.99" y="246.04" width="18.20" height="101.36" fill="#000"/>
<line x1="367.09" y1="229.54" x2="367.09" y2="263.34" stroke="#7a7a7a" stroke-width="0.9"/>
<line x1="365.49" y1="229.54" x2="368.69" y2="229.54" stroke="#7a7a7a" stroke-width="0.9"/>
<line x1="365.49" y1="263.34" x2="368.69" y2="263.34" stroke="#7a7a7a" stroke-width="0.9"/>
<rect x="405.96" y="248.48" width="18.20" height="98.92" fill="#000"/>
<line x1="415.06" y1="230.08" x2="415.06" y2="267.68" stroke="#7a7a7a" stroke-width="0.9"/>
<line x1="413.46" y1="230.08" x2="416.66" y2="230.08" stroke="#7a7a7a" stroke-width="0.9"/>
<line x1="413.46" y1="267.68" x2="416.66" y2="267.68" stroke="#7a7a7a" stroke-width="0.9"/>
<rect x="453.94" y="236.21" width="18.20" height="111.19" fill="#000"/>
<line x1="463.04" y1="221.21" x2="463.04" y2="252.01" stroke="#7a7a7a" stroke-width="0.9"/>
<line x1="461.44" y1="221.21" x2="464.64" y2="221.21" stroke="#7a7a7a" stroke-width="0.9"/>
<line x1="461.44" y1="252.01" x2="464.64" y2="252.01" stroke="#7a7a7a" stroke-width="0.9"/>
<rect x="501.91" y="241.48" width="18.20" height="105.92" fill="#000"/>
<line x1="511.01" y1="221.38" x2="511.01" y2="262.38" stroke="#7a7a7a" stroke-width="0.9"/>
<line x1="509.41" y1="221.38" x2="512.61" y2="221.38" stroke="#7a7a7a" stroke-width="0.9"/>
<line x1="509.41" y1="262.38" x2="512.61" y2="262.38" stroke="#7a7a7a" stroke-width="0.9"/>
<text x="366.20" y="361.00" font-size="9.3" text-anchor="middle" fill="#111" stroke="#111" stroke-width="0.08">Control</text>
<text x="412.00" y="361.00" font-size="9.3" text-anchor="middle" fill="#111" stroke="#111" stroke-width="0.08">ZnPP</text>
<text x="463.00" y="361.00" font-size="9.3" text-anchor="middle" fill="#111" stroke="#111" stroke-width="0.08">PPIX</text>
<text x="507.70" y="361.00" font-size="9.3" text-anchor="middle" fill="#111" stroke="#111" stroke-width="0.08">ZnPC</text>
<line x1="364.10" y1="217.40" x2="512.40" y2="217.40" stroke="#4a4a4a" stroke-width="1.0"/>
<text x="438.00" y="213.20" font-size="9.3" text-anchor="middle" fill="#111" stroke="#111" stroke-width="0.08">n.s.</text>
<line x1="393.80" y1="365.20" x2="528.40" y2="365.20" stroke="#5a5a5a" stroke-width="1.0"/>
<text x="454.00" y="378.00" font-size="9.3" text-anchor="middle" fill="#111" stroke="#111" stroke-width="0.08">Concentration (1 µM)</text>
<text x="312.20" y="208.50" font-size="13.5" text-anchor="middle" fill="#111" stroke="#111" stroke-width="0.08">D</text>
<text x="319.20" y="279.30" font-size="11" text-anchor="middle" fill="#111" stroke="#111" stroke-width="0.08" transform="rotate(-90 319.20 279.30)">Viable cell number (%)</text>
</svg>
</body></html>
